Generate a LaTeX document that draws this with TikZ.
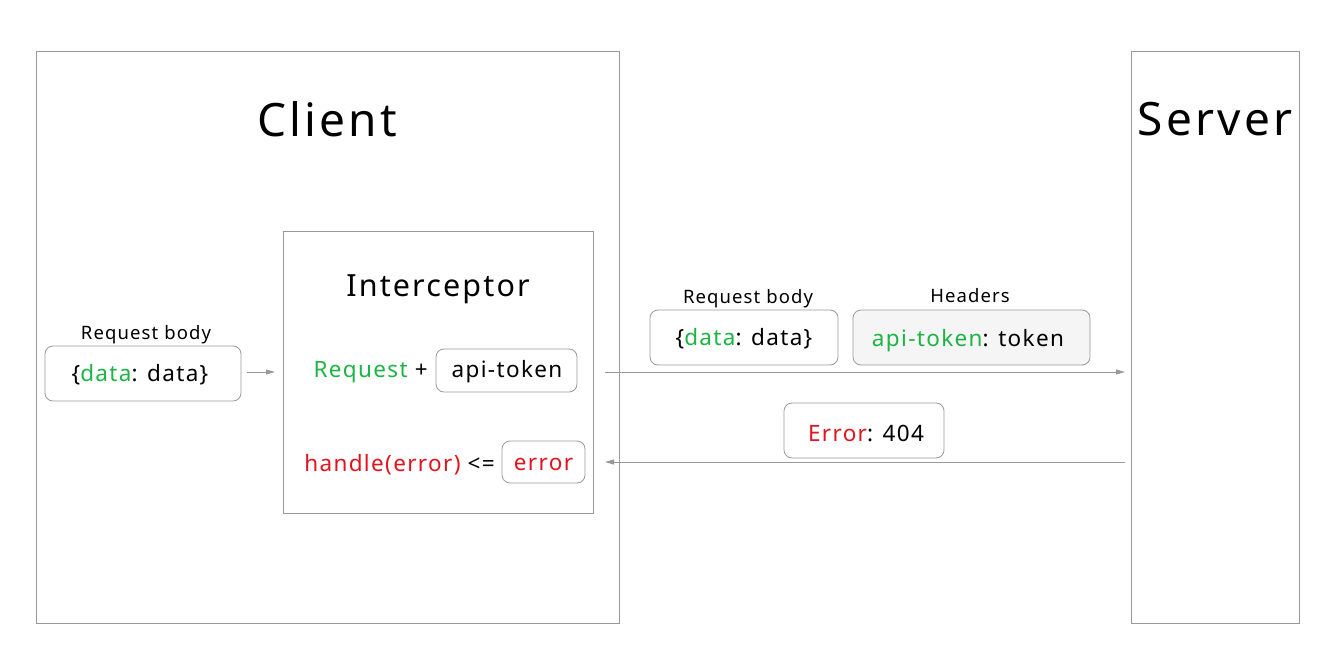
\documentclass[tikz,border=0pt]{standalone}
\usepackage{fontspec}
\setmainfont{Noto Sans}[LetterSpace=6]
\newfontfamily\titlefont{Noto Sans}[LetterSpace=7]
\usetikzlibrary{arrows.meta}
\definecolor{gline}{HTML}{999999}
\definecolor{okgreen}{HTML}{1DB446}
\definecolor{errred}{HTML}{E0141E}
\definecolor{hdrfill}{HTML}{F5F5F5}
\begin{document}
\begin{tikzpicture}[x=1pt,y=-1pt,
  frame/.style={draw=gline,line width=0.8pt},
  pill/.style={draw=gline,line width=0.8pt,rounded corners=8pt,inner sep=0pt},
  lbl/.style={font=\fontsize{18.5}{20}\selectfont,inner sep=0pt,anchor=center},
  txt/.style={font=\fontsize{22.5}{26}\selectfont,inner sep=0pt,anchor=center},
  conn/.style={draw=gline,line width=0.8pt,-{Triangle[length=9pt,width=5pt]}}]
\useasboundingbox (0,0) rectangle (1343,655);
% Client
\node[frame,minimum width=583pt,minimum height=572pt,inner sep=0pt,anchor=north west] (client) at (36,51) {};
\node[font=\titlefont\fontsize{46}{50}\selectfont,inner sep=0pt] (clientlbl) at (327,119) {Client};
% Server
\node[frame,minimum width=168pt,minimum height=572pt,inner sep=0pt,anchor=north west] (server) at (1131,51) {};
\node[font=\titlefont\fontsize{46}{50}\selectfont,inner sep=0pt] (serverlbl) at (1215,119) {Server};
% Interceptor
\node[frame,minimum width=310pt,minimum height=282pt,inner sep=0pt,anchor=north west] (icpt) at (283,231) {};
\node[font=\titlefont\fontsize{30.5}{34}\selectfont,inner sep=0pt] (icptlbl) at (438,289) {Interceptor};
% Left request body
\node[lbl] (rblbl1) at (146,335) {Request body};
\node[pill,minimum width=196pt,minimum height=55pt] (rb1) at (143,373.5) {};
\node[txt] (rbt1) at (140,375) {\{\textcolor{okgreen}{data}: data\}};
% Interceptor content
\node[txt,anchor=east] (reqt) at (428,372) {\textcolor{okgreen}{Request} +};
\node[pill,minimum width=141pt,minimum height=43pt] (tok) at (506.5,370.5) {};
\node[txt] (tokt) at (507,372) {api-token};
\node[txt,anchor=east] (hdl) at (495,465) {\textcolor{errred}{handle(error)} <=};
\node[pill,minimum width=83pt,minimum height=42pt] (err) at (543.5,462) {};
\node[txt] (errt) at (543.5,464) {\textcolor{errred}{error}};
% Right side
\node[lbl] (rblbl2) at (748,299) {Request body};
\node[pill,minimum width=188pt,minimum height=55pt] (rb2) at (744,337.5) {};
\node[txt] (rbt2) at (744,339) {\{\textcolor{okgreen}{data}: data\}};
\node[lbl] (hdrlbl) at (970,296) {Headers};
\node[pill,fill=hdrfill,minimum width=237pt,minimum height=55pt] (hdr) at (971.5,337.5) {};
\node[txt] (hdrt) at (968,341) {\textcolor{okgreen}{api-token}: token};
\node[pill,minimum width=160pt,minimum height=55pt] (e404) at (864,430.5) {};
\node[txt] (e404t) at (866,433) {\textcolor{errred}{Error}: 404};
% connectors
\coordinate (a1s) at (247,372);
\coordinate (a1e) at (275,372);
\draw[conn] (a1s) -- (a1e);
\coordinate (a2s) at (605,372);
\coordinate (a2e) at (1125,372);
\draw[conn] (a2s) -- (a2e);
\coordinate (a3s) at (1125,462);
\coordinate (a3e) at (605,462);
\draw[conn] (a3s) -- (a3e);
\end{tikzpicture}
\end{document}
